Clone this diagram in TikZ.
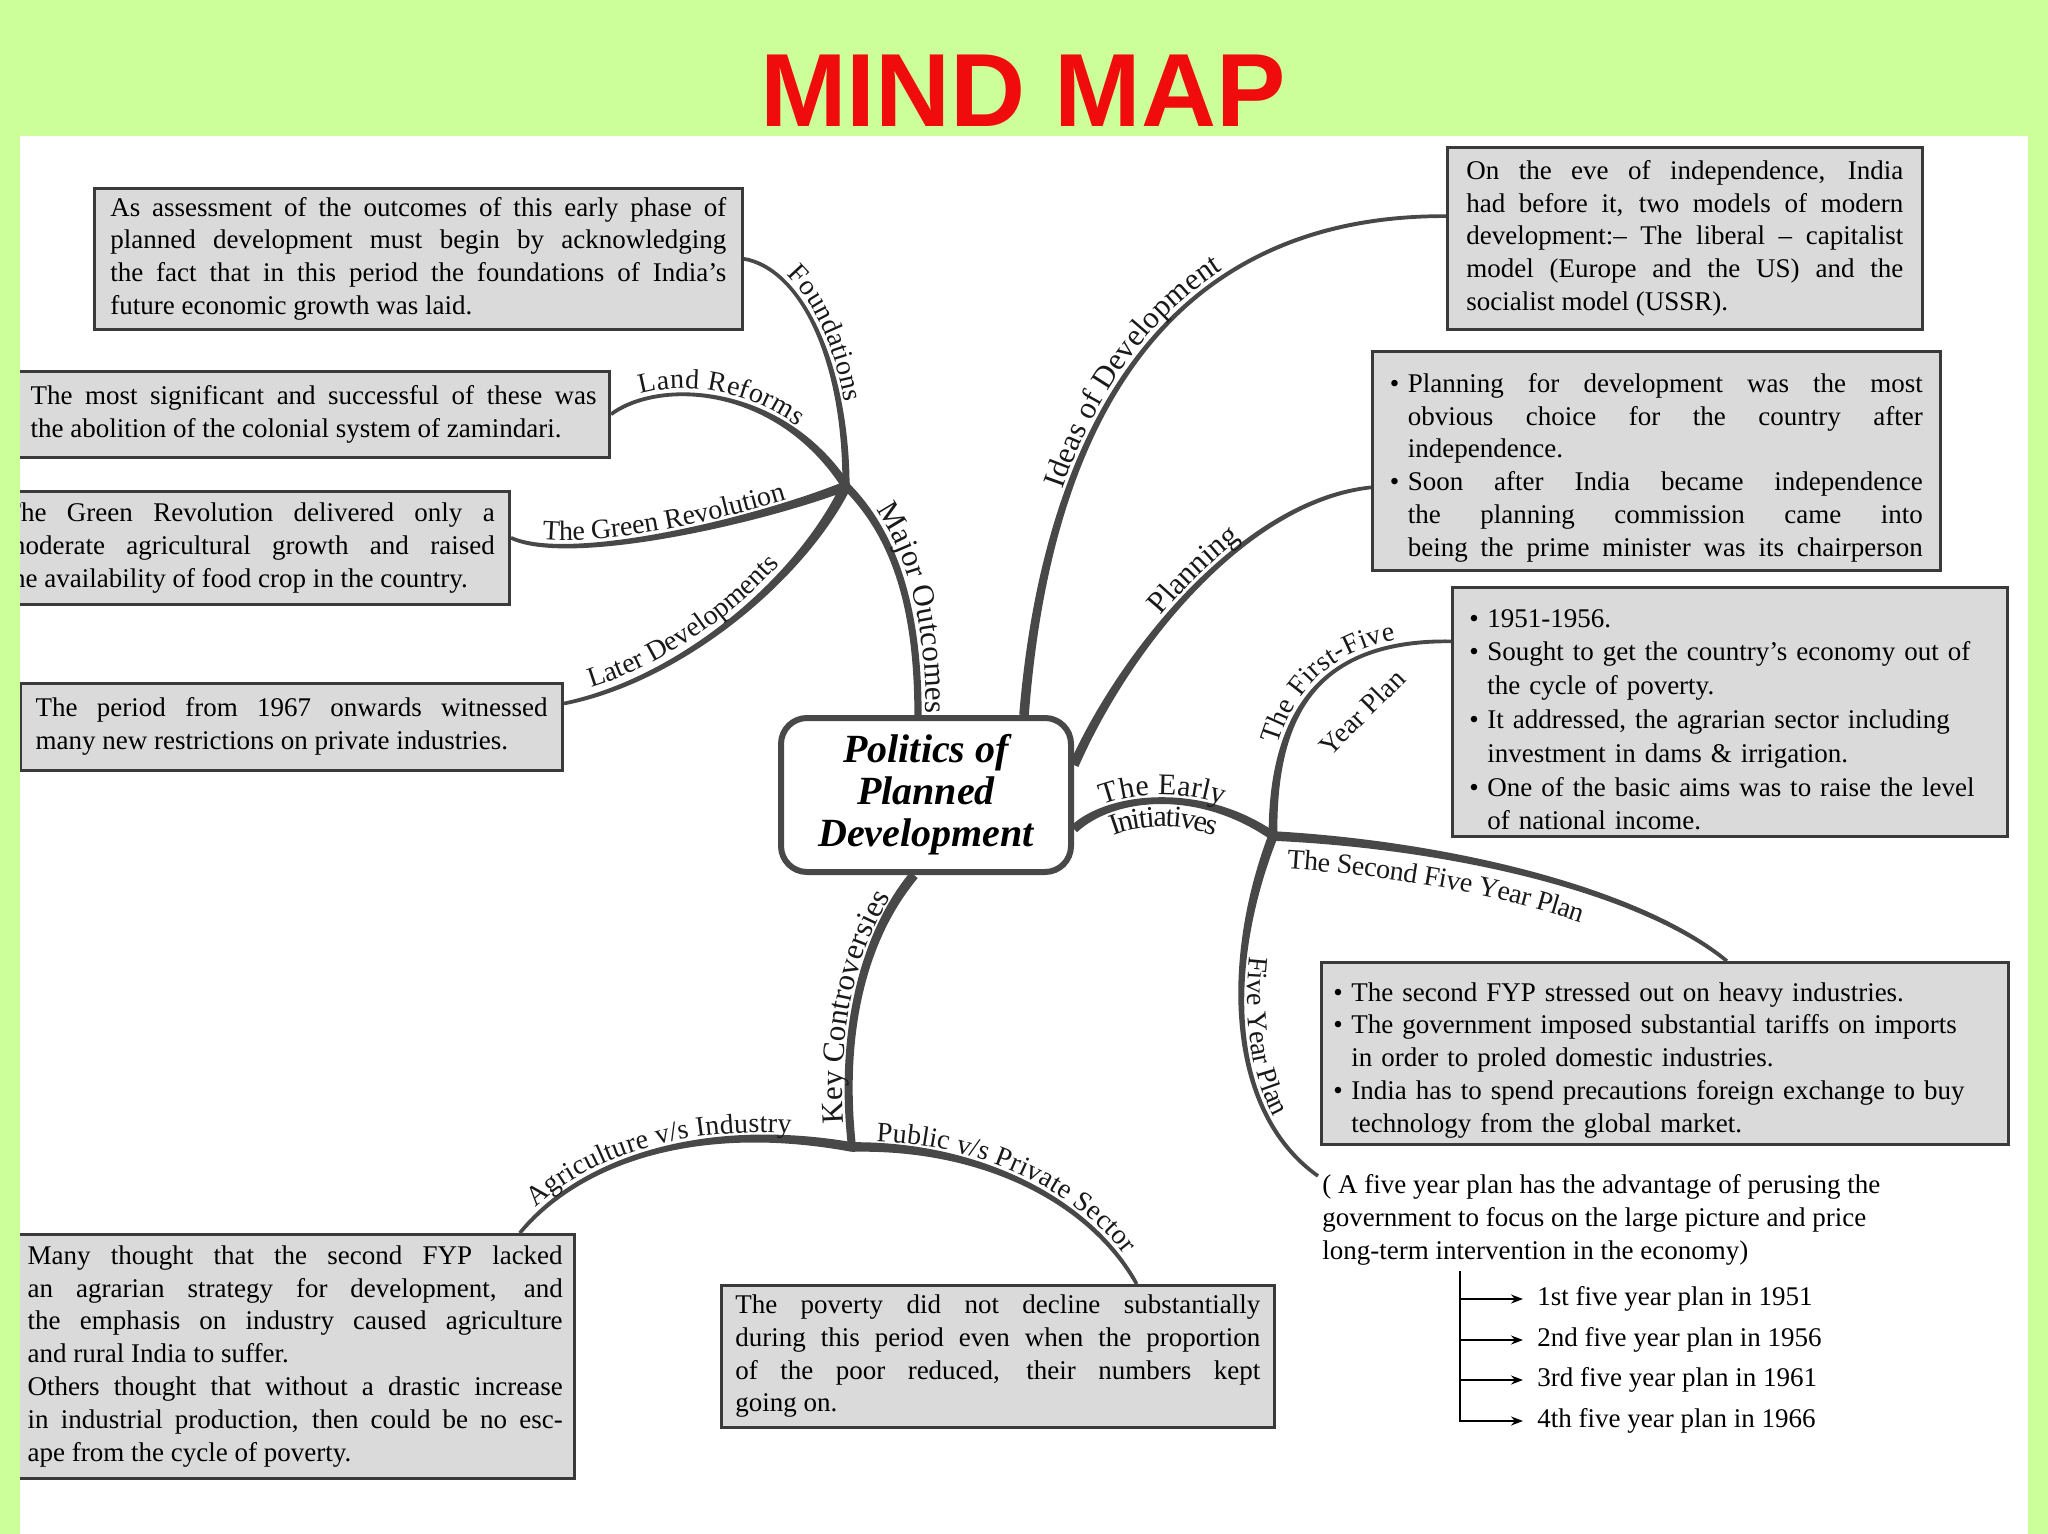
\documentclass[tikz,border=0pt]{standalone}
\usepackage{fontspec}
\setmainfont{Liberation Serif}
\newfontfamily\titlefont{Liberation Sans}
\usetikzlibrary{calc,arrows.meta,decorations.text}
\definecolor{bggreen}{RGB}{204,255,153}
\definecolor{titlered}{RGB}{240,12,12}
\definecolor{boxfill}{RGB}{218,218,218}
\definecolor{boxline}{RGB}{58,58,58}
\definecolor{branchcol}{RGB}{72,72,72}
\definecolor{labelcol}{RGB}{25,25,25}

\newcommand\boxfont{\fontsize{13.5}{16.4}\selectfont}
\newcommand\labfont{\fontsize{14}{16}\selectfont}
\newcommand\biglabfont{\fontsize{15.5}{17}\selectfont}
\newcommand\bul{\par\noindent\hangindent=9pt\hangafter=1\makebox[9pt][l]{\textbullet}\ignorespaces}

% tapered branch: #1 start, #2 ctrl1, #3 ctrl2, #4 end, #5 half width at start, #6 half width at end
\newcommand\branch[6]{%
  \coordinate (bA) at #1;
  \coordinate (bB) at #2;
  \coordinate (bC) at #3;
  \coordinate (bD) at #4;
  \pgfmathsetlengthmacro\brWa{#5}%
  \pgfmathsetlengthmacro\brWd{#6}%
  \pgfmathsetlengthmacro\brWb{(2*\brWa+\brWd)/3}%
  \pgfmathsetlengthmacro\brWc{(\brWa+2*\brWd)/3}%
  \fill[branchcol] ($(bA)!\brWa!90:(bB)$) .. controls ($(bB)!\brWb!-90:(bA)$) and ($(bC)!\brWc!90:(bD)$) .. ($(bD)!\brWd!-90:(bC)$)
    -- ($(bD)!\brWd!90:(bC)$) .. controls ($(bC)!\brWc!-90:(bD)$) and ($(bB)!\brWb!90:(bA)$) .. ($(bA)!\brWa!-90:(bB)$) -- cycle;
}
% label along the last branch: [#1 font] #2 raise, #3 left indent, #4 text
\newcommand\lbl[4][\labfont]{%
  \path[decorate, decoration={text along path, text={|#1\color{labelcol}|#4}, text align={align=left, left indent=#3}, raise=#2}]
    (bA) .. controls (bB) and (bC) .. (bD);
}

\tikzset{
  textbox/.style={draw=boxline, fill=boxfill, line width=1.3pt, font=\boxfont, align=justify, inner ysep=3pt},
  corebox/.style={draw=branchcol, line width=3pt, rounded corners=13pt, minimum width=145pt, minimum height=77pt,
    align=center, fill=white, font=\fontsize{20}{21}\selectfont\bfseries\itshape},
  listitem/.style={anchor=west, font=\boxfont, inner xsep=7pt, inner ysep=2pt},
  listline/.style={line width=0.9pt, draw=black},
  plaintext/.style={font=\boxfont, align=left, inner sep=0pt, anchor=north west},
  freelabel/.style={font=\labfont, text=labelcol, inner sep=1pt},
}

\begin{document}
\begin{tikzpicture}[x=0.5pt,y=-0.5pt]
\useasboundingbox (0,0) rectangle (2048,1534);
\fill[bggreen] (0,0) rectangle (2048,1534);
\fill[white] (20,136) rectangle (2028,1534);
\node[font=\titlefont\bfseries\fontsize{52}{56}\selectfont, text=titlered, anchor=base, inner sep=0pt] (title) at (1023,127) {MIND MAP};

\begin{scope}
\clip (20,136) rectangle (2028,1534);

% ---------- boxes ----------
\node[textbox, anchor=north west, text width=308pt, inner xsep=8pt, minimum height=70.5pt] (box1) at (93,187)
 {As assessment of the outcomes of this early phase of\linebreak planned development must begin by acknowledging\linebreak the fact that in this period the foundations of India's\linebreak future economic growth was laid.};

\node[textbox, anchor=north east, text width=283pt, inner xsep=6.5pt, minimum height=43pt] (box2) at (611,370)
 {The most significant and successful of these was\linebreak the abolition of the colonial system of zamindari.};

\node[textbox, anchor=north east, text width=245pt, inner xsep=7.5pt, minimum height=56.5pt] (box3) at (511,490)
 {\parfillskip=0pt The Green Revolution delivered only a\linebreak moderate agricultural growth and raised\linebreak the availability of food crop in the country.};

\node[textbox, anchor=north east, text width=256pt, inner xsep=7.5pt, minimum height=43.5pt] (box4) at (564,682)
 {\parfillskip=0pt The period from 1967 onwards witnessed\linebreak many new restrictions on private industries.};

\node[textbox, anchor=north west, text width=218.5pt, inner xsep=9.5pt, minimum height=91pt] (box5) at (1446,146)
 {On the eve of independence, India\linebreak had before it, two models of modern\linebreak development:– The liberal – capitalist\linebreak model (Europe and the US) and the\linebreak socialist model (USSR).};

\node[textbox, anchor=north west, text width=266.5pt, inner xsep=8.75pt, minimum height=109.5pt] (box6) at (1371,350)
 {\bul Planning for development was the most\linebreak obvious choice for the country after\linebreak independence.\bul\parfillskip=0pt Soon after India became independence\linebreak the planning commission came into\linebreak being the prime minister was its chairperson\par};

\node[textbox, align=left, anchor=north west, text width=260.5pt, inner xsep=8.5pt, minimum height=123pt,
      font=\fontsize{13.5}{16.9}\selectfont] (box7) at (1451,586)
 {\bul 1951-1956.\bul Sought to get the country's economy out of\newline the cycle of poverty.\bul It addressed, the agrarian sector including\newline investment in dams \& irrigation.\bul One of the basic aims was to raise the level\newline of national income.\par};

\node[textbox, align=left, anchor=north west, text width=331.5pt, inner xsep=6pt, minimum height=91pt] (box8) at (1320,961)
 {\bul The second FYP stressed out on heavy industries.\bul The government imposed substantial tariffs on imports\newline in order to proled domestic industries.\bul India has to spend precautions foreign exchange to buy\newline technology from the global market.\par};

\node[textbox, anchor=north east, text width=267.5pt, inner xsep=6pt, minimum height=122pt] (box9) at (576,1233)
 {Many thought that the second FYP lacked\linebreak an agrarian strategy for development, and\linebreak the emphasis on industry caused agriculture\linebreak and rural India to suffer.\par Others thought that without a drastic increase\linebreak in industrial production, then could be no esc-\linebreak ape from the cycle of poverty.};

\node[textbox, anchor=north west, text width=262.5pt, inner xsep=7pt, minimum height=71pt] (box10) at (720,1284)
 {The poverty did not decline substantially\linebreak during this period even when the proportion\linebreak of the poor reduced, their numbers kept\linebreak going on.};

\node[plaintext] (fyp) at (1322,1174)
 {( A five year plan has the advantage of perusing the\\government to focus on the large picture and price\\long-term intervention in the economy)};

\node[listitem] (it1) at (1523,1299) {1st five year plan in 1951};
\node[listitem] (it2) at (1523,1340) {2nd five year plan in 1956};
\node[listitem] (it3) at (1523,1380) {3rd five year plan in 1961};
\node[listitem] (it4) at (1523,1421) {4th five year plan in 1966};
\coordinate (lstTop) at (1460,1271);
\draw[listline, -{Stealth[length=6pt,width=4.5pt]}] (lstTop) |- (it4.west);
\foreach \i in {1,2,3} \draw[listline, -{Stealth[length=6pt,width=4.5pt]}] (lstTop |- it\i.west) -- (it\i.west);

% ---------- centre ----------
\node[corebox] (core) at (926,795) {Politics of\\Planned\\Development};

\coordinate (hubL) at (846,486);
\coordinate (hubR) at (1273,836);
\coordinate (hubB) at (852,1147);

% ---------- branches ----------
\branch{(box1.east)}{(800,268)}{(846,360)}{(hubL)}{0.9pt}{1.8pt}
\lbl{3pt}{22pt}{Foundations}
\branch{(box2.east)}{(660,378)}{(780,385)}{(hubL)}{0.9pt}{2.2pt}
\lbl{3pt}{17pt}{Land Reforms}
\branch{([yshift=5pt]box3.east)}{(570,565)}{(760,520)}{(hubL)}{0.9pt}{2.4pt}
\lbl{3pt}{16pt}{The Green Revolution}
\branch{($(box4.north east)!0.24!(box4.south east)$)}{(680,680)}{(800,580)}{(hubL)}{0.9pt}{2.6pt}
\path[decorate, decoration={text along path, text={|\labfont\color{labelcol}|Later Developments}, text align={align=left, left indent=15pt}}]
  (562,695) .. controls (677,672) and (793,574) .. (838,481);
\branch{(hubL)}{(900,540)}{(918,620)}{([xshift=-4pt]core.north)}{2pt}{1.8pt}
\lbl[\biglabfont]{4pt}{18pt}{Major Outcomes}
\fill[branchcol] (hubL) circle (2.4pt);

\branch{([xshift=49pt]core.north)}{(1045,450)}{(1150,215)}{($(box5.north west)!0.38!(box5.south west)$)}{2.4pt}{0.9pt}
\lbl[\biglabfont]{3pt}{114pt}{Ideas of Development}
\branch{([yshift=15pt]core.east)}{(1130,640)}{(1250,500)}{($(box6.north west)!0.62!(box6.south west)$)}{2.4pt}{0.9pt}
\lbl[\biglabfont]{3pt}{86pt}{Planning}
\branch{([yshift=-17pt]core.east)}{(1110,795)}{(1200,785)}{(hubR)}{2.2pt}{2.2pt}
\lbl[\fontsize{15}{17}\selectfont]{3pt}{18pt}{The Early}
\lbl[\fontsize{15}{17}\selectfont]{-13pt}{18pt}{Initiatives}
\branch{(hubR)}{(1272,700)}{(1330,640)}{($(box7.north west)!0.22!(box7.south west)$)}{2.2pt}{0.9pt}
\lbl{3pt}{45pt}{The First-Five}
\node[freelabel, rotate=45] (yearplan) at (1362,712) {Year Plan};
\branch{(hubR)}{(1450,845)}{(1640,890)}{($(box8.north west)!0.59!(box8.north east)$)}{2.4pt}{0.9pt}
\lbl{-16pt}{8pt}{The Second Five Year Plan}
\branch{(hubR)}{(1225,960)}{(1225,1110)}{([xshift=-2pt,yshift=-1pt]fyp.north west)}{2.4pt}{0.9pt}
\lbl{3pt}{62pt}{Five Year Plan}
\fill[branchcol] (hubR) circle (2.4pt);

\branch{(hubB)}{(840,1040)}{(860,940)}{([xshift=-6pt]core.south)}{2pt}{2.4pt}
\lbl[\biglabfont]{3pt}{12pt}{Key Controversies}
\branch{($(box9.north west)!0.9!(box9.north east)$)}{(580,1160)}{(700,1120)}{(hubB)}{0.9pt}{2.4pt}
\lbl{3pt}{14pt}{Agriculture v/s Industry}
\branch{(hubB)}{(980,1145)}{(1090,1200)}{($(box10.north west)!0.75!(box10.north east)$)}{2.4pt}{0.9pt}
\lbl{3pt}{12pt}{Public v/s Private Sector}
\fill[branchcol] (hubB) circle (2.4pt);
\end{scope}
\end{tikzpicture}
\end{document}
